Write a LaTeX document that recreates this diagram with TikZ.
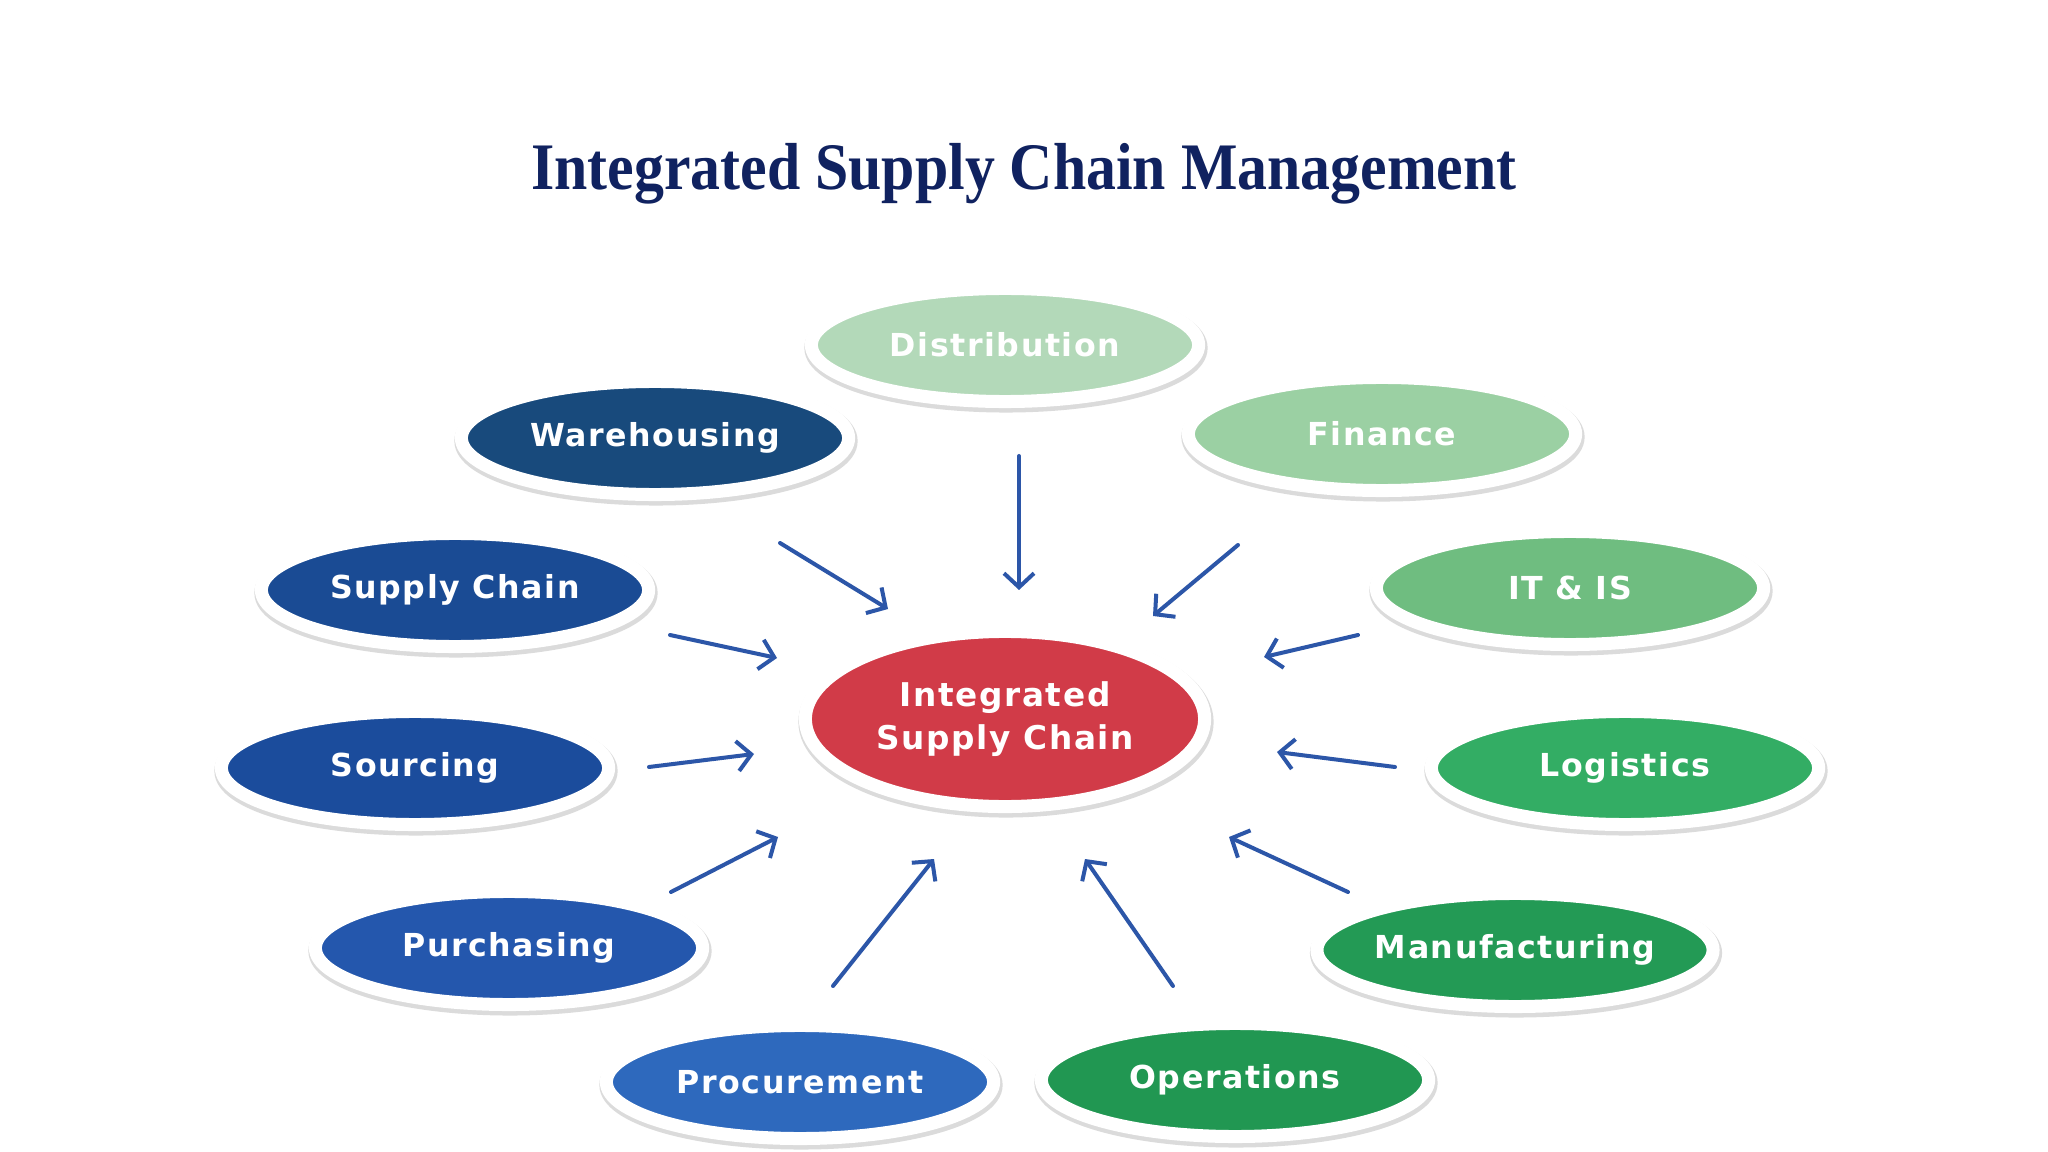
\documentclass[tikz,border=0pt]{standalone}
\usepackage{fontspec}
\setmainfont{Liberation Serif}
\newfontfamily\lblfont[LetterSpace=5]{DejaVu Sans}
\usetikzlibrary{shapes.geometric,arrows.meta}
\definecolor{titleblue}{RGB}{16,34,96}
\definecolor{arrblue}{RGB}{44,86,168}
\definecolor{cDist}{RGB}{179,217,185}
\definecolor{cFin}{RGB}{155,208,163}
\definecolor{cIT}{RGB}{111,189,128}
\definecolor{cLog}{RGB}{51,173,100}
\definecolor{cMan}{RGB}{35,154,85}
\definecolor{cOps}{RGB}{33,151,82}
\definecolor{cWare}{RGB}{24,74,124}
\definecolor{cSC}{RGB}{26,75,148}
\definecolor{cSrc}{RGB}{27,76,156}
\definecolor{cPur}{RGB}{36,87,173}
\definecolor{cProc}{RGB}{46,105,189}
\definecolor{cCore}{RGB}{209,59,72}
\tikzset{
  bubble/.style={ellipse, fill=#1, draw=white, line width=0.13cm,
    minimum width=3.87cm, minimum height=1.13cm, inner sep=0pt,
    text=white, font=\lblfont\bfseries\fontsize{9}{10}\selectfont,
    preaction={draw=black!14, line width=0.16cm,
      transform canvas={yshift=-0.03cm, xshift=0.01cm}}},
  corebubble/.style={bubble=cCore, minimum width=3.99cm, minimum height=1.75cm,
    align=center, font=\lblfont\bfseries\fontsize{9.3}{12.2}\selectfont},
  flow/.style={draw=arrblue, line width=0.04cm, line cap=round,
    -{Straight Barb[length=0.14cm,width=0.3cm,line width=0.04cm]}}
}
\begin{document}
\begin{tikzpicture}[x=0.01cm,y=-0.01cm]
\fill[white] (0,0) rectangle (2048,1152);
\useasboundingbox (0,0) rectangle (2048,1152);
\node[text=titleblue, inner sep=0pt] (title) at (1024,174)
  {\scalebox{0.9}[1]{\bfseries\fontsize{18.9}{22}\selectfont Integrated Supply Chain Management}};

\node[bubble=cDist] (dist) at (1005,345) {Distribution};
\node[bubble=cWare] (ware) at (655,438) {Warehousing};
\node[bubble=cFin] (fin) at (1382,434) {Finance};
\node[bubble=cSC] (sc) at (455,590) {Supply Chain};
\node[bubble=cIT] (it) at (1570,588) {IT \& IS};
\node[bubble=cSrc] (src) at (415,768) {Sourcing};
\node[bubble=cLog] (log) at (1625,768) {Logistics};
\node[bubble=cPur] (pur) at (509,948) {Purchasing};
\node[bubble=cMan] (man) at (1515,950) {Manufacturing};
\node[bubble=cProc] (proc) at (800,1082) {Procurement};
\node[bubble=cOps] (ops) at (1235,1080) {Operations};
\node[corebubble] (core) at (1005,719) {Integrated\\Supply Chain};

\coordinate (a1s) at (780,543);  \coordinate (a1e) at (888,609);
\coordinate (a2s) at (1019,456); \coordinate (a2e) at (1019,590);
\coordinate (a3s) at (1238,545); \coordinate (a3e) at (1153,616);
\coordinate (a4s) at (670,635);  \coordinate (a4e) at (777,658);
\coordinate (a5s) at (1358,635); \coordinate (a5e) at (1264,657);
\coordinate (a6s) at (649,767);  \coordinate (a6e) at (754,754);
\coordinate (a7s) at (1395,767); \coordinate (a7e) at (1277,752);
\coordinate (a8s) at (671,892);  \coordinate (a8e) at (778,837);
\coordinate (a9s) at (1348,892); \coordinate (a9e) at (1229,837);
\coordinate (a10s) at (833,986); \coordinate (a10e) at (934,859);
\coordinate (a11s) at (1173,986); \coordinate (a11e) at (1085,859);

\foreach \i in {1,...,11}{\draw[flow] (a\i s) -- (a\i e);}
\end{tikzpicture}
\end{document}
